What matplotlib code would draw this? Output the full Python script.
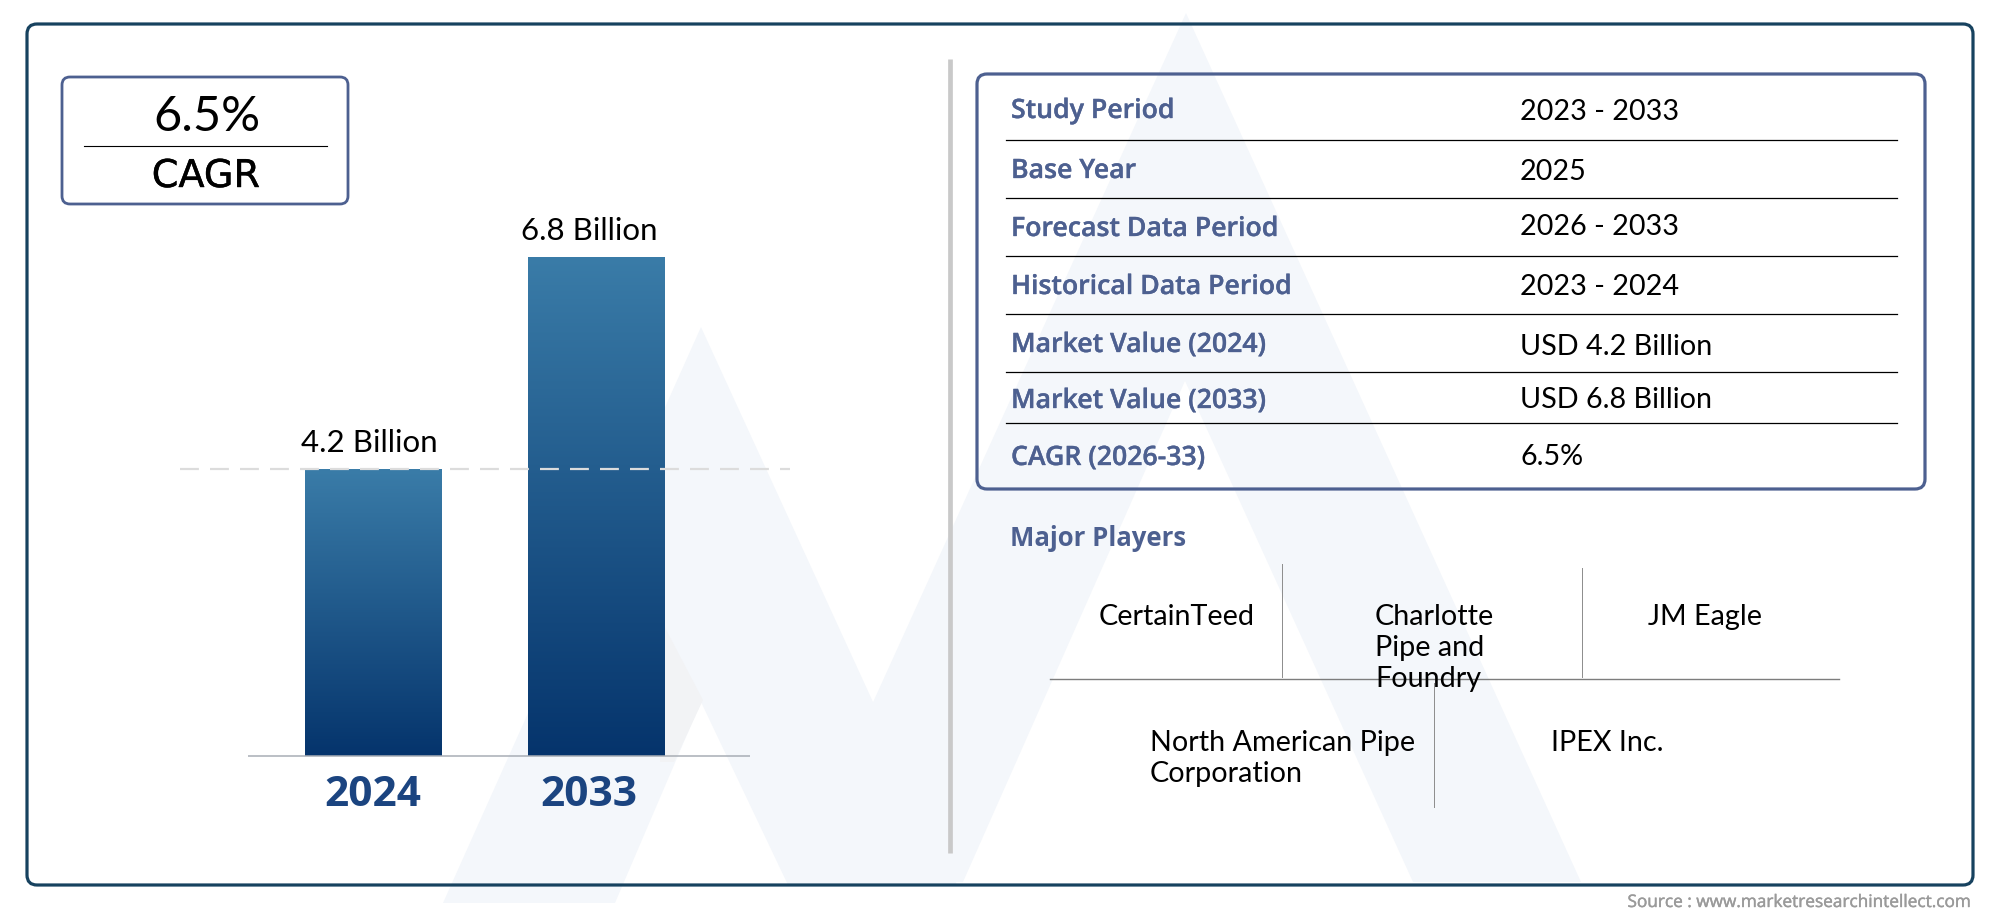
import numpy as np
import matplotlib
matplotlib.use("Agg")
import matplotlib.pyplot as plt
import matplotlib.patheffects as pe
from matplotlib.patches import FancyBboxPatch, Polygon
from matplotlib.colors import LinearSegmentedColormap

years = ["2024", "2033"]
values = [4.2, 6.8]
value_labels = ["4.2 Billion", "6.8 Billion"]
cagr_value = "6.5%"
cagr_label = "CAGR"
table_labels = ["Study Period", "Base Year", "Forecast Data Period", "Historical Data Period",
                "Market Value (2024)", "Market Value (2033)", "CAGR (2026-33)"]
table_values = ["2023 - 2033", "2025", "2026 - 2033", "2023 - 2024",
                "USD 4.2 Billion", "USD 6.8 Billion", "6.5%"]
players_title = "Major Players"
source_text = "Source : www.marketresearchintellect.com"

BODY = "Lato"
HEAD = "Open Sans"
NAVY = "#4d6090"
EDGE = "#17425f"
WASH = "#f4f7fb"

fig = plt.figure(figsize=(20, 9.17), dpi=100, facecolor="white")
bg = fig.add_axes([0, 0, 1, 1])
bg.set_xlim(0, 2000)
bg.set_ylim(917, 0)
bg.axis("off")

# watermark
bg.add_patch(Polygon([(443, 903), (701, 327), (957, 885), (788, 885), (701, 702), (615, 903)],
                     fc=WASH, ec="none", zorder=1))
bg.add_patch(Polygon([(790, 885), (1186, 13), (1581, 882), (1413, 882), (1185, 381), (963, 882)],
                     fc=WASH, ec="none", zorder=1))
bg.add_patch(Polygon([(660, 618), (703, 700), (674, 762), (660, 762)],
                     fc="#f2f3f5", ec="none", zorder=1))


def rbox(x0, y0, x1, y1, color, lw, r=8):
    bg.add_patch(FancyBboxPatch((x0 + r, y0 + r), x1 - x0 - 2 * r, y1 - y0 - 2 * r,
                                boxstyle=f"round,pad={r},rounding_size={r}",
                                fc="none", ec=color, lw=lw, zorder=3))


rbox(27, 24, 1973, 885, EDGE, 2.3, r=10)
rbox(62, 77, 348, 204, NAVY, 2.0, r=8)
rbox(977, 74, 1925, 489, NAVY, 2.3, r=10)

# centre divider
bg.plot([950, 950], [59, 853], color="#c9c9c9", lw=3.4, solid_capstyle="butt", zorder=2)

# CAGR box
bg.plot([84, 327], [146, 146], color="black", lw=0.8, zorder=3)
bg.text(207, 117, cagr_value, ha="center", va="center", family=BODY, fontsize=35, color="black", zorder=4)
bg.text(206, 177, cagr_label, ha="center", va="center", family="DejaVu Sans", fontsize=27.5, color="black", zorder=4,
        path_effects=[pe.withStroke(linewidth=0.3, foreground="black")])

# table
label_y = [111, 171, 229, 287, 345, 401, 458]
value_y = [112, 172, 227, 287, 347, 400, 457]
rule_y = [140, 198, 256, 314, 372, 423]
for y in rule_y:
    bg.plot([1006, 1897], [y, y], color="black", lw=0.9, zorder=3)
for t, y in zip(table_labels, label_y):
    bg.text(1011, y, t, ha="left", va="center", family=HEAD, fontweight="semibold",
            fontsize=19.2, color=NAVY, zorder=4,
            path_effects=[pe.withStroke(linewidth=0.25, foreground=NAVY)])
for t, y in zip(table_values, value_y):
    bg.text(1520, y, t, ha="left", va="center", family=BODY, fontsize=20.7, color="black", zorder=4)

# major players
bg.text(1010, 538, players_title, ha="left", va="center", family=HEAD, fontweight="bold",
        fontsize=18.5, color=NAVY, zorder=4)
bg.plot([1050, 1839], [679, 679], color="#7d7d7d", lw=1.0, zorder=3)
bg.plot([1282, 1282], [564, 677], color="#8c8c8c", lw=0.7, zorder=3)
bg.plot([1582, 1582], [568, 677], color="#8c8c8c", lw=0.7, zorder=3)
bg.plot([1434, 1434], [683, 807], color="#8c8c8c", lw=0.7, zorder=3)
players = [("CertainTeed", 1099, 617), ("Charlotte", 1375, 617), ("Pipe and", 1375, 648),
           ("Foundry", 1375, 679), ("JM Eagle", 1648, 617),
           ("North American Pipe", 1150, 743), ("Corporation", 1150, 774), ("IPEX Inc.", 1551, 743)]
for name, x, y in players:
    bg.text(x, y, name, ha="left", va="center", family=BODY, fontsize=20.7, color="black", zorder=4)

bg.text(1973, 903, source_text, ha="right", va="center", family=HEAD, fontsize=12.4,
        color="#9a9a9a", zorder=4, path_effects=[pe.withStroke(linewidth=0.3, foreground="#9a9a9a")])

# bars: axes spans x 180..790 px, y 200..756 px
ax = fig.add_axes([180 / 2000, 1 - 756 / 917, 610 / 2000, 556 / 917])
ax.patch.set_alpha(0)
for s in ax.spines.values():
    s.set_visible(False)
xlim = (-0.865, 1.870)
floor = 0.69
ylim = (floor, floor + 556 / 81.7)
positions = np.arange(len(values))
cmap = LinearSegmentedColormap.from_list("bar", ["#05346c", "#3a7ca8"])
grad = np.linspace(1, 0, 256).reshape(-1, 1)
bars = ax.bar(positions, np.array(values) - floor, bottom=floor, width=0.61, color="none")
for r in bars:
    im = ax.imshow(grad, cmap=cmap, aspect="auto", zorder=2,
                   extent=[r.get_x(), r.get_x() + r.get_width(), floor, r.get_y() + r.get_height()])
    im.set_clip_path(r)
ax.set_xlim(*xlim)
ax.set_ylim(*ylim)
ax.hlines(floor, -0.56, 1.69, color="#a8adb5", lw=1.1, zorder=3, clip_on=False)
ax.hlines(values[0], xlim[0], xlim[1], color="#dcdcdc", lw=1.6, linestyles=(0, (8.5, 5)), zorder=4)
ax.set_xticks([0, 0.97], years, family=HEAD, fontweight="bold", fontsize=30.5, color="#1b4480")
ax.set_yticks([])
ax.tick_params(axis="x", length=0, pad=14)
for x, v, t in zip([-0.015, 0.972], values, value_labels):
    ax.annotate(t, (x, v), xytext=(0, 26), textcoords="offset pixels", ha="center", va="center",
                family=BODY, fontsize=22.5, color="black")

fig.savefig("out.png", dpi=100)
